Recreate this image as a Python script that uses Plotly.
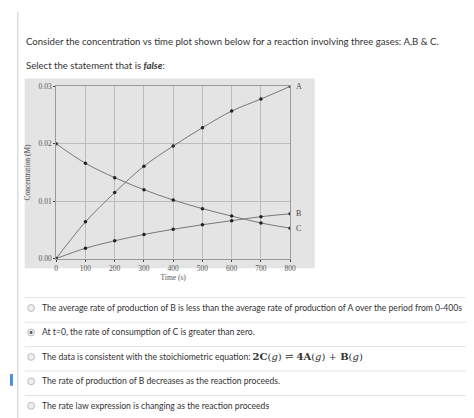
import plotly.graph_objects as go

W, H = 474, 418
time_s = [0, 100, 200, 300, 400, 500, 600, 700, 800]
conc_A = [0.0, 0.0064, 0.0115, 0.0161, 0.0196, 0.0228, 0.0257, 0.0278, 0.0300]
conc_B = [0.0, 0.0018, 0.0031, 0.0042, 0.0051, 0.0059, 0.0066, 0.0073, 0.0078]
conc_C = [0.0200, 0.0166, 0.0141, 0.0120, 0.0102, 0.0087, 0.0074, 0.0062, 0.0053]
x_ticks = [0, 100, 200, 300, 400, 500, 600, 700, 800]
y_ticks = [0.0, 0.01, 0.02, 0.03]
y_labels = ["0.00", "0.01", "0.02", "0.03"]
options = [
    "The average rate of production of B is less than the average rate of production of A over the period from 0-400s",
    "At t=0, the rate of consumption of C is greater than zero.",
    "The data is consistent with the stoichiometric equation: <span style='font-family:DejaVu Serif;font-size:10px'><b>2C</b>(<i>g</i>) ⇌ <b>4A</b>(<i>g</i>) + <b>B</b>(<i>g</i>)</span>",
    "The rate of production of B decreases as the reaction proceeds.",
    "The rate law expression is changing as the reaction proceeds",
]
selected = 1

def px(x):
    return x / W

def py(y):
    return 1 - y / H

fig = go.Figure()
for name, ys in [("A", conc_A), ("B", conc_B), ("C", conc_C)]:
    fig.add_trace(go.Scatter(x=time_s, y=ys, mode="lines+markers", name=name,
                             line=dict(color="#777", width=1, shape="spline"),
                             marker=dict(color="#222", size=3.5), showlegend=False))
    fig.add_annotation(x=800, y=ys[-1], text=name, showarrow=False, xanchor="left",
                       xshift=4, font=dict(family="Liberation Serif", size=8, color="#444"))

serif = dict(family="Liberation Serif", size=7.5, color="#555")
fig.update_xaxes(domain=[px(47), px(285)], range=[0, 800], tickvals=x_ticks, tickfont=serif,
                 showgrid=True, gridcolor="#bbb", zeroline=False, linecolor="#999",
                 mirror=True, showline=True, ticks="outside", ticklen=2,
                 title=dict(text="Time (s)", font=serif, standoff=2))
fig.update_yaxes(domain=[py(252), py(76)], range=[0, 0.03], tickvals=y_ticks, ticktext=y_labels,
                 tickfont=serif, showgrid=True, gridcolor="#bbb", zeroline=False,
                 linecolor="#999", mirror=True, showline=True, ticks="outside", ticklen=2,
                 title=dict(text="Concentration (M)", font=serif, standoff=6))

shapes = [
    dict(type="rect", xref="paper", yref="paper", x0=px(15), x1=px(310), y0=py(262), y1=py(68),
         fillcolor="#e4e4e4", line=dict(width=0), layer="below"),
    dict(type="line", xref="paper", yref="paper", x0=px(8), x1=px(8), y0=0, y1=1,
         line=dict(color="#ccc", width=1)),
    dict(type="rect", xref="paper", yref="paper", x0=0, x1=px(3), y0=py(382), y1=py(370),
         fillcolor="#4a90d9", line=dict(width=0)),
]
annotations = [
    dict(x=px(14), y=py(30), text="Consider the concentration vs time plot shown below for a reaction involving three gases: A,B &amp; C.",
         font=dict(family="Lato", size=9.6, color="#333")),
    dict(x=px(14), y=py(55), text="Select the statement that is <b><i>false</i></b>:",
         font=dict(family="Lato", size=9.6, color="#333")),
]
for i, opt in enumerate(options):
    top = 292 + 25 * i
    shapes.append(dict(type="line", xref="paper", yref="paper", x0=px(15), x1=1,
                       y0=py(top), y1=py(top), line=dict(color="#e2e2e2", width=1)))
    shapes.append(dict(type="circle", xref="paper", yref="paper", x0=px(18), x1=px(25),
                       y0=py(top + 14), y1=py(top + 7), fillcolor="#eee",
                       line=dict(color="#bbb", width=1)))
    if i == selected:
        shapes.append(dict(type="circle", xref="paper", yref="paper", x0=px(20), x1=px(23),
                           y0=py(top + 12), y1=py(top + 9), fillcolor="#555", line=dict(width=0)))
    annotations.append(dict(x=px(31), y=py(top + 10.5), text=opt,
                            font=dict(family="Lato", size=8.6, color="#333")))
for a in annotations:
    a.update(xref="paper", yref="paper", showarrow=False, xanchor="left", yanchor="middle")
    fig.add_annotation(**a)

fig.update_layout(width=W, height=H, margin=dict(l=0, r=0, t=0, b=0), shapes=shapes,
                  plot_bgcolor="white", paper_bgcolor="white")
fig.write_html("out.html")
